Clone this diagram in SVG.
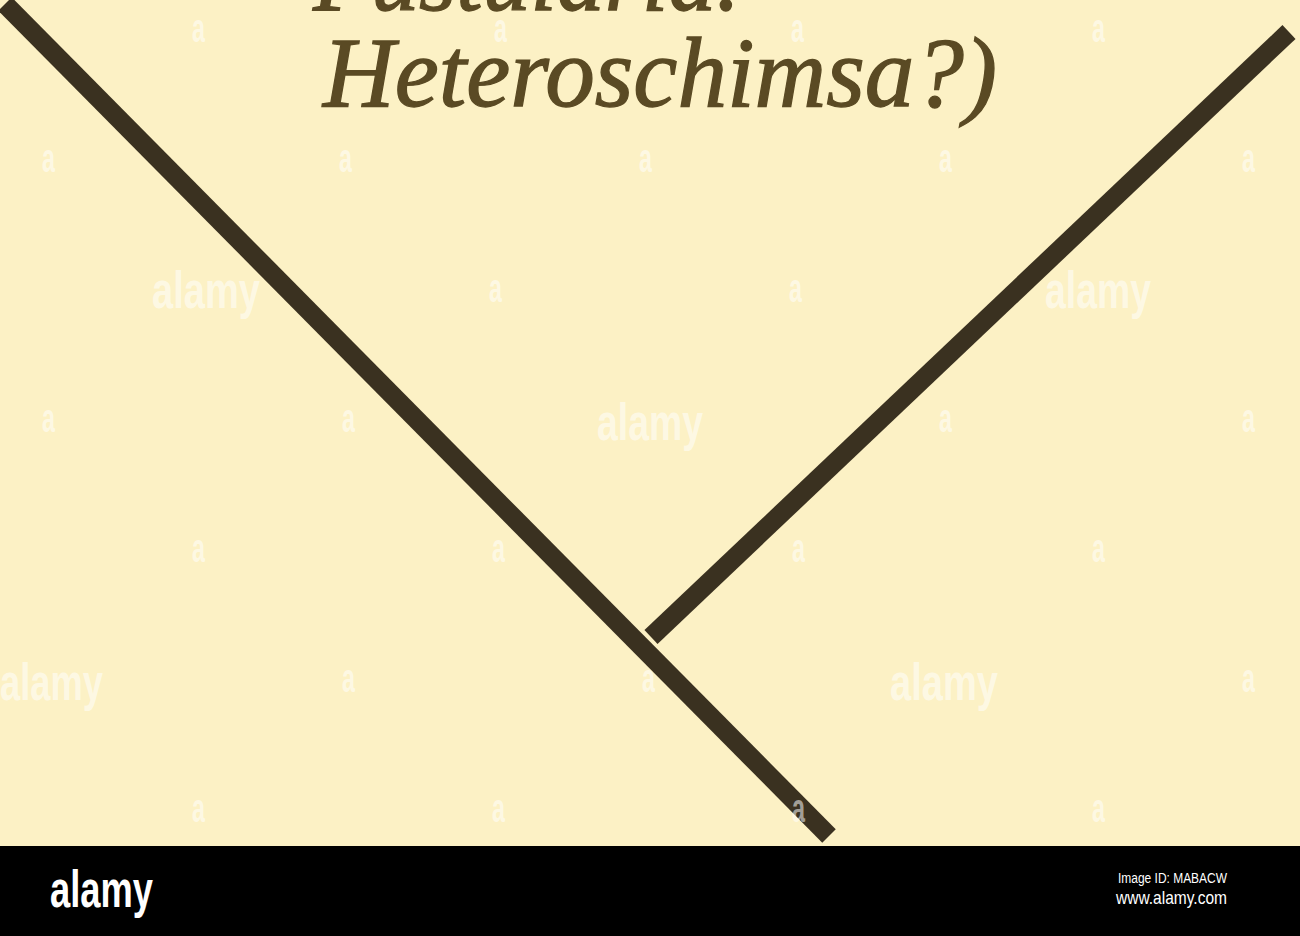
<svg xmlns="http://www.w3.org/2000/svg" width="1300" height="936" viewBox="0 0 1300 936">
  <style>
    .bg { fill: #fcf1c5; }
    .branch { stroke: #3a3120; stroke-width: 19; stroke-linecap: butt; fill: none; }
    .label { font-family: "Liberation Serif", "DejaVu Serif", serif; font-style: italic; font-size: 100px; fill: #5a4a24; stroke: #5a4a24; stroke-width: 1.3; }
    .wm { font-family: "Liberation Sans", "DejaVu Sans", sans-serif; font-weight: bold; fill: #ffffff; fill-opacity: 0.55; }
    .wm-a { font-size: 40px; }
    .wm-logo { font-size: 52px; }
    .footer { font-family: "Liberation Sans", "DejaVu Sans", sans-serif; fill: #ffffff; }
  </style>
  <rect class="bg" x="0" y="0" width="1300" height="936"/>

  <g id="labels">
    <text class="label" x="313" y="10" textLength="427" lengthAdjust="spacingAndGlyphs">Pustularia.</text>
    <text class="label" x="323" y="106" textLength="674" lengthAdjust="spacingAndGlyphs">Heteroschimsa?)</text>
  </g>

  <g id="connectors">
    <line id="trunk" class="branch" x1="5" y1="4" x2="829" y2="836"/>
    <line id="branch" class="branch" x1="1289" y1="32" x2="651" y2="637"/>
  </g>

  <g id="watermarks">
    <text class="wm wm-a" x="192" y="42" textLength="13" lengthAdjust="spacingAndGlyphs">a</text>
    <text class="wm wm-a" x="494" y="42" textLength="13" lengthAdjust="spacingAndGlyphs">a</text>
    <text class="wm wm-a" x="791" y="42" textLength="13" lengthAdjust="spacingAndGlyphs">a</text>
    <text class="wm wm-a" x="1092" y="42" textLength="13" lengthAdjust="spacingAndGlyphs">a</text>
    <text class="wm wm-a" x="42" y="172" textLength="13" lengthAdjust="spacingAndGlyphs">a</text>
    <text class="wm wm-a" x="339" y="172" textLength="13" lengthAdjust="spacingAndGlyphs">a</text>
    <text class="wm wm-a" x="639" y="172" textLength="13" lengthAdjust="spacingAndGlyphs">a</text>
    <text class="wm wm-a" x="939" y="172" textLength="13" lengthAdjust="spacingAndGlyphs">a</text>
    <text class="wm wm-a" x="1242" y="172" textLength="13" lengthAdjust="spacingAndGlyphs">a</text>
    <text class="wm wm-logo" x="152" y="308" textLength="108" lengthAdjust="spacingAndGlyphs">alamy</text>
    <text class="wm wm-a" x="489" y="302" textLength="13" lengthAdjust="spacingAndGlyphs">a</text>
    <text class="wm wm-a" x="789" y="302" textLength="13" lengthAdjust="spacingAndGlyphs">a</text>
    <text class="wm wm-logo" x="1045" y="308" textLength="106" lengthAdjust="spacingAndGlyphs">alamy</text>
    <text class="wm wm-a" x="42" y="432" textLength="13" lengthAdjust="spacingAndGlyphs">a</text>
    <text class="wm wm-a" x="342" y="432" textLength="13" lengthAdjust="spacingAndGlyphs">a</text>
    <text class="wm wm-logo" x="597" y="440" textLength="106" lengthAdjust="spacingAndGlyphs">alamy</text>
    <text class="wm wm-a" x="939" y="432" textLength="13" lengthAdjust="spacingAndGlyphs">a</text>
    <text class="wm wm-a" x="1242" y="432" textLength="13" lengthAdjust="spacingAndGlyphs">a</text>
    <text class="wm wm-a" x="192" y="562" textLength="13" lengthAdjust="spacingAndGlyphs">a</text>
    <text class="wm wm-a" x="492" y="562" textLength="13" lengthAdjust="spacingAndGlyphs">a</text>
    <text class="wm wm-a" x="792" y="562" textLength="13" lengthAdjust="spacingAndGlyphs">a</text>
    <text class="wm wm-a" x="1092" y="562" textLength="13" lengthAdjust="spacingAndGlyphs">a</text>
    <text class="wm wm-logo" x="0" y="700" textLength="103" lengthAdjust="spacingAndGlyphs">alamy</text>
    <text class="wm wm-a" x="342" y="692" textLength="13" lengthAdjust="spacingAndGlyphs">a</text>
    <text class="wm wm-a" x="642" y="692" textLength="13" lengthAdjust="spacingAndGlyphs">a</text>
    <text class="wm wm-logo" x="890" y="700" textLength="108" lengthAdjust="spacingAndGlyphs">alamy</text>
    <text class="wm wm-a" x="1242" y="692" textLength="13" lengthAdjust="spacingAndGlyphs">a</text>
    <text class="wm wm-a" x="192" y="822" textLength="13" lengthAdjust="spacingAndGlyphs">a</text>
    <text class="wm wm-a" x="492" y="822" textLength="13" lengthAdjust="spacingAndGlyphs">a</text>
    <text class="wm wm-a" x="792" y="822" textLength="13" lengthAdjust="spacingAndGlyphs">a</text>
    <text class="wm wm-a" x="1092" y="822" textLength="13" lengthAdjust="spacingAndGlyphs">a</text>
  </g>

  <g id="footer">
    <rect x="0" y="846" width="1300" height="90" fill="#000000"/>
    <text class="footer" x="50" y="907" font-size="52" font-weight="bold" textLength="103" lengthAdjust="spacingAndGlyphs">alamy</text>
    <text class="footer" x="1118" y="883" font-size="14" textLength="109" lengthAdjust="spacingAndGlyphs">Image ID: MABACW</text>
    <text class="footer" x="1116" y="904" font-size="19" textLength="111" lengthAdjust="spacingAndGlyphs">www.alamy.com</text>
  </g>
</svg>
